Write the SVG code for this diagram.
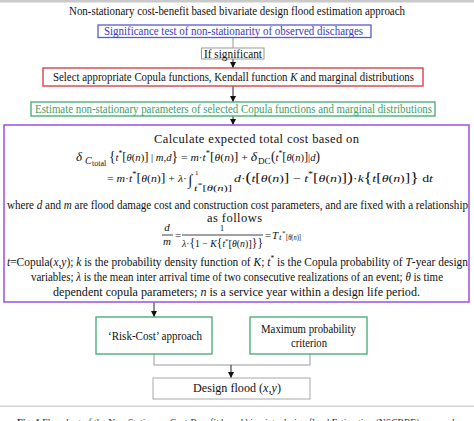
<svg xmlns="http://www.w3.org/2000/svg" width="474" height="421" viewBox="0 0 474 421" font-size="12">
<defs>
<style>
text{font-family:"Liberation Serif","Times New Roman",serif;fill:#111}
.i{font-style:italic}
.c{text-anchor:middle}
.sm{font-size:8px}
.box{fill:#fff}
.con{stroke:#222;stroke-width:1;fill:none}
.gcon{stroke:#999;stroke-width:1;fill:none}
</style>
<marker id="ah" viewBox="0 0 6 6" refX="6" refY="3" markerWidth="6" markerHeight="6" orient="auto" markerUnits="userSpaceOnUse">
<path d="M0,0 L6,3 L0,6 z" fill="#111"/>
</marker>
</defs>
<rect width="474" height="421" fill="#fff"/>
<rect x="0" y="0" width="474" height="2.5" fill="#c9c9c9"/>
<text x="69" y="15" font-size="11.5" textLength="336" lengthAdjust="spacingAndGlyphs">Non-stationary cost-benefit based bivariate design flood estimation approach</text>

<g id="connectors">
<line class="gcon" x1="233" y1="37.5" x2="233" y2="48"/>
<line class="con" x1="233" y1="59" x2="233" y2="68" marker-end="url(#ah)"/>
<line class="con" x1="233" y1="86" x2="233" y2="102" marker-end="url(#ah)"/>
<line class="con" x1="233" y1="116" x2="233" y2="125" marker-end="url(#ah)"/>
<line class="con" x1="154" y1="302" x2="154" y2="317" marker-end="url(#ah)"/>
<polyline class="gcon" points="154,354 154,365 310,365 310,354"/>
<line class="con" x1="231" y1="365" x2="231" y2="378" marker-end="url(#ah)"/>
</g>

<g id="n-significance">
<rect class="box" x="98" y="25" width="273" height="12.5" stroke="#5a5ad6" stroke-width="1.3"/>
<text x="104" y="35" font-size="11.5" textLength="259" lengthAdjust="spacingAndGlyphs" style="fill:#3b3bc4">Significance test of non-stationarity of observed discharges</text>
</g>

<g id="n-ifsig">
<rect class="box" x="201.5" y="48" width="62.5" height="11" stroke="#9a9a9a" stroke-width="1"/>
<text x="204" y="57.5" font-size="11.5" textLength="58" lengthAdjust="spacingAndGlyphs">If significant</text>
</g>

<g id="n-select">
<rect class="box" x="43" y="68" width="380" height="18" stroke="#d9404a" stroke-width="1.4"/>
<text x="53" y="81" textLength="361" lengthAdjust="spacingAndGlyphs">Select appropriate Copula functions, Kendall function <tspan class="i">K</tspan> and marginal distributions</text>
</g>

<g id="n-estimate">
<rect class="box" x="31" y="102" width="404" height="14" stroke="#4cb07a" stroke-width="1.4"/>
<text x="35" y="113" textLength="397" lengthAdjust="spacingAndGlyphs" style="fill:#3a9f66">Estimate non-stationary parameters of selected Copula functions and marginal distributions</text>
</g>

<g id="n-calc">
<rect class="box" x="4" y="125" width="465" height="177" stroke="#a25ae6" stroke-width="1.6"/>
<text x="154" y="143" font-size="12.5" textLength="205" lengthAdjust="spacing">Calculate expected total cost based on</text>
<!-- formula line 1 -->
<text x="76" y="161" class="i" font-size="13">δ</text>
<text x="85" y="164" class="i" font-size="10">C</text>
<text x="92" y="166" font-size="8">total</text>
<text x="109" y="161" textLength="69" lengthAdjust="spacingAndGlyphs" font-size="11"><tspan font-size="14">{</tspan><tspan class="i">t</tspan><tspan class="sm" dy="-5">*</tspan><tspan dy="5" font-size="13">[</tspan><tspan class="i">θ</tspan>(<tspan class="i">n</tspan>)<tspan font-size="13">]</tspan> | <tspan class="i">m</tspan>,<tspan class="i">d</tspan><tspan font-size="14">}</tspan></text>
<text x="181" y="161" textLength="76" lengthAdjust="spacingAndGlyphs" font-size="11">= <tspan class="i">m</tspan>·<tspan class="i">t</tspan><tspan class="sm" dy="-5">*</tspan><tspan dy="5" font-size="13">[</tspan><tspan class="i">θ</tspan>(<tspan class="i">n</tspan>)<tspan font-size="13">]</tspan> + <tspan class="i" font-size="13">δ</tspan></text>
<text x="258" y="164" font-size="9">DC</text>
<text x="271" y="161" textLength="49" lengthAdjust="spacingAndGlyphs" font-size="11"><tspan font-size="14">(</tspan><tspan class="i">t</tspan><tspan class="sm" dy="-5">*</tspan><tspan dy="5" font-size="13">[</tspan><tspan class="i">θ</tspan>(<tspan class="i">n</tspan>)<tspan font-size="13">]</tspan>|<tspan class="i">d</tspan><tspan font-size="14">)</tspan></text>
<!-- formula line 2 -->
<text x="107" y="182" textLength="80" lengthAdjust="spacingAndGlyphs" font-size="11">= <tspan class="i">m</tspan>·<tspan class="i">t</tspan><tspan class="sm" dy="-5">*</tspan><tspan dy="5" font-size="13">[</tspan><tspan class="i">θ</tspan>(<tspan class="i">n</tspan>)<tspan font-size="13">]</tspan> + <tspan class="i">λ</tspan>·</text>
<text x="188" y="185" font-size="15">∫</text>
<text x="195" y="175" font-size="7">1</text>
<text x="194" y="191" textLength="38" lengthAdjust="spacingAndGlyphs" font-size="9"><tspan class="i">t</tspan><tspan dy="-4" font-size="7">*</tspan><tspan dy="4">[</tspan><tspan class="i">θ</tspan>(<tspan class="i">n</tspan>)]</text>
<text x="234" y="182" textLength="199" lengthAdjust="spacingAndGlyphs" font-size="11"><tspan class="i">d</tspan>·<tspan font-size="14">(</tspan><tspan class="i">t</tspan><tspan font-size="13">[</tspan><tspan class="i">θ</tspan>(<tspan class="i">n</tspan>)<tspan font-size="13">]</tspan> − <tspan class="i">t</tspan><tspan class="sm" dy="-5">*</tspan><tspan dy="5" font-size="13">[</tspan><tspan class="i">θ</tspan>(<tspan class="i">n</tspan>)<tspan font-size="13">]</tspan><tspan font-size="14">)</tspan>·<tspan class="i">k</tspan><tspan font-size="14">{</tspan><tspan class="i">t</tspan><tspan font-size="13">[</tspan><tspan class="i">θ</tspan>(<tspan class="i">n</tspan>)<tspan font-size="13">]</tspan><tspan font-size="14">}</tspan> d<tspan class="i">t</tspan></text>
<!-- paragraph -->
<text x="7" y="209" textLength="461" lengthAdjust="spacingAndGlyphs">where <tspan class="i">d</tspan>  and <tspan class="i">m</tspan> are flood damage cost and construction cost parameters, and are fixed with a relationship</text>
<text x="207" y="222" font-size="12.5" textLength="55" lengthAdjust="spacing">as follows</text>
<!-- fraction -->
<text x="167" y="231" class="c i" font-size="11">d</text>
<line x1="162" y1="235" x2="173" y2="235" stroke="#111" stroke-width="0.8"/>
<text x="167" y="245" class="c i" font-size="11">m</text>
<text x="175" y="239" font-size="11">=</text>
<text x="222" y="231" class="c" font-size="9">1</text>
<line x1="182" y1="235" x2="263" y2="235" stroke="#111" stroke-width="0.8"/>
<text x="182" y="247" textLength="81" lengthAdjust="spacingAndGlyphs" font-size="10"><tspan class="i">λ</tspan>·<tspan font-size="12">{</tspan>1 − <tspan class="i">K</tspan><tspan font-size="12">{</tspan><tspan class="i">t</tspan><tspan font-size="7" dy="-4">*</tspan><tspan dy="4" font-size="11">[</tspan><tspan class="i">θ</tspan>(<tspan class="i">n</tspan>)<tspan font-size="11">]</tspan><tspan font-size="12">}</tspan><tspan font-size="12">}</tspan></text>
<text x="265" y="239" font-size="11">=</text>
<text x="272" y="239" class="i" font-size="11">T</text>
<text x="279" y="240" class="i" font-size="9">t</text>
<text x="282" y="235" font-size="7">*</text>
<text x="286" y="240" font-size="8" textLength="15" lengthAdjust="spacingAndGlyphs">[<tspan class="i">θ</tspan>(<tspan class="i">n</tspan>)]</text>
<!-- definitions -->
<text x="7" y="266" textLength="461" lengthAdjust="spacingAndGlyphs"><tspan class="i">t</tspan>=Copula(<tspan class="i">x</tspan>,<tspan class="i">y</tspan>); <tspan class="i">k</tspan> is the probability density function of <tspan class="i">K</tspan>; <tspan class="i">t</tspan><tspan class="sm" dy="-5">*</tspan><tspan dy="5"> is the Copula probability of </tspan><tspan class="i">T</tspan>-year design</text>
<text x="31" y="281" textLength="412" lengthAdjust="spacingAndGlyphs">variables; <tspan class="i">λ</tspan> is the mean inter  arrival time of two consecutive realizations of an event; <tspan class="i">θ</tspan> is time</text>
<text x="53" y="296" textLength="367" lengthAdjust="spacingAndGlyphs">dependent copula parameters; <tspan class="i">n</tspan> is a service year within a design life period.</text>
</g>

<g id="n-riskcost">
<rect class="box" x="96" y="317" width="116" height="37" stroke="#4cb07a" stroke-width="1.4"/>
<text x="108" y="340" textLength="94" lengthAdjust="spacingAndGlyphs">‘Risk-Cost’ approach</text>
</g>

<g id="n-maxprob">
<rect class="box" x="250" y="317" width="117" height="37" stroke="#4cb07a" stroke-width="1.4"/>
<text x="261" y="333" textLength="95" lengthAdjust="spacingAndGlyphs">Maximum probability</text>
<text x="291" y="347" textLength="36" lengthAdjust="spacingAndGlyphs">criterion</text>
</g>

<g id="n-design">
<rect class="box" x="153" y="378" width="157" height="21" stroke="#a8a8a8" stroke-width="1"/>
<text x="193" y="392" textLength="88" lengthAdjust="spacingAndGlyphs">Design flood (<tspan class="i">x</tspan>,<tspan class="i">y</tspan>)</text>
</g>

<rect x="0" y="405.5" width="474" height="1.5" fill="#d4d4d4"/>
<text x="17" y="426" font-size="10" textLength="440" lengthAdjust="spacingAndGlyphs" style="fill:#333"><tspan font-weight="bold">Fig. 1</tspan> Flowchart of the Non-Stationary Cost-Benefit based bivariate design flood Estimation (NSCBBE) approach</text>
</svg>
